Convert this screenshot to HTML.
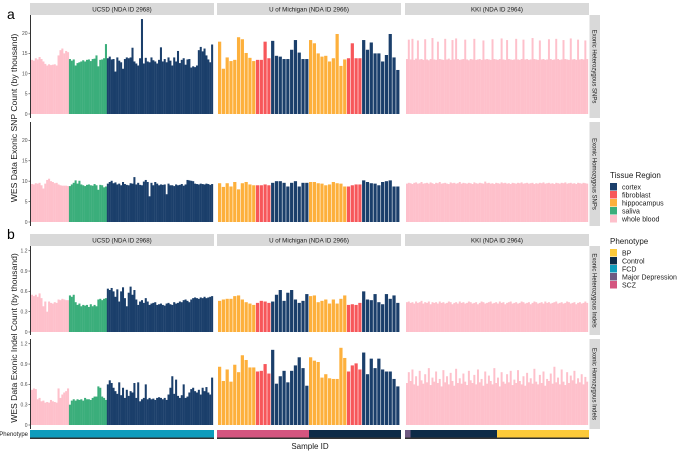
<!DOCTYPE html>
<html><head><meta charset="utf-8"><style>
html,body{margin:0;padding:0;background:#fff}
svg{display:block;font-family:"Liberation Sans",sans-serif}
</style></head><body>
<svg id="c" width="685" height="453" viewBox="0 0 685 453"></svg>
<script>
// ---------- DATA ----------
const sites = ["UCSD (NDA ID 2968)", "U of Michigan (NDA ID 2966)", "KKI (NDA ID 2964)"];
const rowLabels = ["Exonic Heterozygous SNPs", "Exonic Homozygous SNPs", "Exonic Heterozygous Indels", "Exonic Homozygous Indels"];
const snpTicks = [0, 5, 10, 15, 20];
const indelTicks = [0, 0.3, 0.6, 0.9, 1.2];
const tissueNames = ["cortex", "fibroblast", "hippocampus", "saliva", "whole blood"];
const tissueColors = ["#1b3f6b", "#f7575a", "#fdb03c", "#3bae7b", "#fec0cb"];
const phenoNames = ["BP", "Control", "FCD", "Major Depression", "SCZ"];
const phenoColors = ["#fdca3a", "#0d2b47", "#0f9cbc", "#6f5a82", "#d4557f"];

const ucsdTissue = [[4, 20], [3, 20], [0, 56]];
const michTissue = [[2, 10], [1, 4], [0, 10], [2, 10], [1, 4], [0, 10]];
const kkiTissue = [[4, 100]];
const ucsdPheno = [[2, 1]];
const michPheno = [[4, 0.5], [1, 0.5]];
const kkiPheno = [[3, 0.03], [1, 0.47], [0, 0.5]];

const ucsdHetSnp = [13.4,13.2,13.8,13.5,14.1,13.6,13.0,12.4,12.0,12.3,12.1,12.2,12.3,12.0,14.5,15.8,16.2,15.0,15.6,15.3,
 13.6,13.2,13.5,12.0,12.6,12.8,13.0,13.3,13.0,13.4,13.5,13.1,13.6,13.7,14.5,11.8,13.4,13.5,13.8,17.3,
 13.8,14.2,13.5,13.6,10.5,14.0,13.2,12.8,11.2,13.6,14.0,13.8,14.0,16.4,13.0,12.5,12.0,13.8,23.5,12.5,13.9,13.0,12.8,14.0,13.3,13.0,12.5,13.4,16.5,13.0,13.6,12.8,14.0,13.2,12.0,14.0,13.0,15.6,12.6,13.4,13.8,12.2,13.5,13.6,11.5,11.8,11.6,12.0,15.8,16.6,15.5,16.2,14.5,13.5,12.8,17.2];
const ucsdHomSnp = [9.3,9.2,9.5,9.4,9.6,9.0,8.2,9.4,10.3,10.6,10.0,9.8,9.5,9.6,9.2,9.0,8.9,8.9,8.9,8.8,
 8.8,9.2,9.6,10.2,9.4,10.1,9.2,9.0,8.8,9.1,9.2,9.0,8.9,9.3,9.0,7.9,9.1,9.0,8.5,8.7,
 9.4,9.8,10.1,9.5,9.7,9.2,9.4,9.0,9.8,9.3,9.1,9.0,9.5,9.4,11.0,9.2,9.6,9.1,9.0,9.9,10.3,9.8,6.3,9.6,9.0,9.8,9.4,9.0,9.2,9.1,9.2,6.8,9.4,9.0,9.0,8.8,9.2,9.0,9.1,9.3,8.9,9.2,10.3,10.2,10.1,10.0,9.4,9.3,9.2,9.4,9.3,9.2,9.4,9.3,9.1,9.3];
const ucsdHetIndel = [0.55,0.53,0.55,0.52,0.57,0.5,0.38,0.45,0.3,0.45,0.43,0.42,0.44,0.43,0.48,0.47,0.49,0.48,0.47,0.47,
 0.54,0.52,0.55,0.44,0.40,0.42,0.38,0.40,0.39,0.40,0.37,0.41,0.38,0.40,0.38,0.48,0.49,0.47,0.49,0.50,
 0.64,0.62,0.65,0.6,0.52,0.63,0.45,0.6,0.66,0.5,0.38,0.58,0.67,0.55,0.62,0.48,0.40,0.45,0.47,0.43,0.50,0.45,0.40,0.42,0.43,0.44,0.40,0.41,0.42,0.40,0.39,0.42,0.43,0.41,0.40,0.44,0.42,0.43,0.45,0.44,0.47,0.48,0.46,0.44,0.48,0.50,0.51,0.50,0.49,0.51,0.50,0.52,0.50,0.51,0.52,0.53];
const ucsdHomIndel = [0.52,0.54,0.53,0.38,0.40,0.35,0.36,0.33,0.34,0.33,0.37,0.35,0.34,0.33,0.54,0.40,0.45,0.48,0.50,0.54,
 0.30,0.36,0.38,0.36,0.38,0.37,0.38,0.36,0.40,0.38,0.38,0.37,0.40,0.42,0.42,0.57,0.55,0.42,0.40,0.37,
 0.60,0.66,0.62,0.55,0.50,0.46,0.63,0.44,0.55,0.40,0.52,0.43,0.50,0.48,0.62,0.40,0.63,0.35,0.38,0.40,0.60,0.38,0.40,0.38,0.39,0.37,0.40,0.41,0.40,0.38,0.40,0.37,0.45,0.55,0.72,0.46,0.67,0.43,0.40,0.44,0.60,0.40,0.42,0.48,0.53,0.55,0.50,0.48,0.52,0.45,0.55,0.50,0.56,0.48,0.45,0.70];

const michHetSnp = [17.9,11.2,14.0,13.1,13.4,19.0,18.5,15.1,13.9,13.1, 13.4,13.4,17.9,13.8, 18.1,14.4,14.2,13.6,13.6,15.9,18.3,15.2,13.6,13.6,
 18.3,17.5,15.0,14.2,14.4,13.0,13.8,19.8,11.9,13.5, 13.8,17.5,13.8,13.8, 18.3,15.9,17.7,15.0,15.0,13.0,14.6,19.8,14.0,10.9];
const michHomSnp = [9.5,8.6,9.5,8.7,9.8,8.0,9.5,9.8,9.2,9.0, 9.0,9.0,9.2,9.0, 9.6,10.0,10.0,9.6,8.7,9.6,10.0,8.7,9.6,9.6,
 9.8,9.8,9.5,9.4,9.0,9.2,9.8,9.5,9.4,8.7, 8.7,9.0,9.2,9.2, 10.2,9.8,9.5,9.4,9.0,9.8,10.0,10.2,8.7,8.7];
const michHetIndel = [0.46,0.48,0.49,0.49,0.53,0.54,0.48,0.44,0.42,0.40, 0.43,0.46,0.45,0.43, 0.45,0.55,0.62,0.46,0.58,0.62,0.48,0.43,0.46,0.56,
 0.53,0.54,0.44,0.46,0.48,0.42,0.48,0.42,0.49,0.54, 0.40,0.41,0.40,0.43, 0.60,0.48,0.47,0.56,0.44,0.41,0.56,0.49,0.54,0.43];
const michHomIndel = [0.86,0.65,0.82,0.64,0.89,0.78,1.03,0.96,0.85,0.85, 0.79,0.80,0.90,0.76, 1.11,0.61,0.72,0.80,0.63,0.80,0.88,1.00,0.84,0.58,
 1.00,0.95,0.93,0.70,0.75,0.69,0.68,0.68,1.14,0.99, 0.79,0.88,0.91,0.82, 1.07,0.75,0.98,0.84,0.98,0.82,0.79,0.79,0.68,0.57];

const kkiHetSnp = [13.6,18.4,13.5,18.6,13.4,13.7,18.2,13.5,13.6,13.4,18.5,13.5,13.3,13.6,18.8,13.5,13.4,17.9,13.6,13.5,
 13.4,18.6,13.5,13.7,13.4,18.3,13.5,18.7,13.6,13.4,13.5,13.6,18.4,13.5,13.3,13.6,13.5,18.6,13.4,13.5,
 13.6,13.4,18.2,13.5,13.6,13.5,13.4,18.5,13.6,13.5,13.4,13.6,18.7,13.5,13.4,18.3,13.6,13.5,13.4,13.5,
 18.6,13.5,13.4,13.6,18.4,13.5,13.6,13.4,13.5,18.8,13.6,13.5,13.4,18.2,13.5,13.6,13.4,13.5,18.5,13.6,
 13.4,13.5,18.6,13.6,13.4,13.5,18.3,13.6,13.5,13.4,18.7,13.5,13.6,13.4,18.4,13.5,13.6,13.5,18.2,13.6];
const kkiHomSnp = [9.4,9.6,9.5,9.3,9.6,9.7,9.4,9.5,9.8,9.4,9.5,9.6,9.4,9.7,9.5,9.3,9.6,9.5,9.8,9.4,
 9.5,9.6,9.4,9.3,9.7,9.5,9.6,9.4,9.5,9.8,9.4,9.6,9.5,9.4,9.6,9.5,9.3,9.7,9.5,9.4,
 9.6,9.5,9.4,9.9,9.5,9.6,9.4,9.5,9.3,9.6,9.5,9.4,9.7,9.5,9.6,9.4,9.5,9.3,9.6,9.5,
 9.4,9.6,9.5,9.7,9.4,9.5,9.6,9.4,9.5,9.6,9.3,9.5,9.4,9.6,9.5,9.7,9.4,9.5,9.6,9.4,
 9.5,9.3,9.6,9.5,9.4,9.6,9.5,9.7,9.4,9.5,9.6,9.4,9.5,9.3,9.6,9.5,9.4,9.6,9.5,9.4];
const kkiHetIndel = [0.44,0.45,0.43,0.44,0.42,0.45,0.43,0.44,0.46,0.42,0.44,0.43,0.45,0.41,0.44,0.43,0.44,0.42,0.45,0.43,
 0.44,0.42,0.43,0.45,0.44,0.41,0.43,0.44,0.42,0.45,0.43,0.44,0.42,0.43,0.45,0.44,0.42,0.43,0.44,0.41,
 0.43,0.45,0.44,0.42,0.43,0.44,0.45,0.42,0.43,0.44,0.42,0.45,0.43,0.44,0.41,0.43,0.44,0.45,0.42,0.43,
 0.44,0.42,0.43,0.45,0.44,0.42,0.43,0.44,0.41,0.43,0.45,0.44,0.42,0.43,0.44,0.42,0.45,0.43,0.44,0.42,
 0.43,0.44,0.45,0.42,0.43,0.44,0.42,0.43,0.45,0.44,0.42,0.43,0.44,0.41,0.43,0.44,0.42,0.43,0.45,0.43];
const kkiHomIndel = [0.62,0.78,0.65,0.82,0.60,0.72,0.58,0.80,0.66,0.61,0.75,0.63,0.84,0.59,0.70,0.64,0.79,0.62,0.68,0.57,
 0.81,0.63,0.72,0.60,0.77,0.65,0.58,0.83,0.62,0.69,0.61,0.76,0.64,0.59,0.80,0.66,0.62,0.74,0.60,0.82,
 0.63,0.68,0.58,0.79,0.61,0.73,0.65,0.60,0.84,0.62,0.70,0.57,0.78,0.64,0.61,0.75,0.63,0.80,0.59,0.67,
 0.62,0.81,0.65,0.60,0.72,0.58,0.77,0.63,0.69,0.61,0.83,0.64,0.60,0.74,0.62,0.79,0.58,0.68,0.65,0.76,
 0.61,0.86,0.63,0.70,0.60,0.82,0.64,0.59,0.78,0.62,0.73,0.66,0.80,0.61,0.69,0.63,0.75,0.60,0.71,0.64];

// ---------- LAYOUT ----------
const NS = "http://www.w3.org/2000/svg";
const svg = document.getElementById("c");
function mk(tag, attrs, parent, text) {
  const e = document.createElementNS(NS, tag);
  for (const k in attrs) e.setAttribute(k, attrs[k]);
  if (text !== undefined) e.textContent = text;
  (parent || svg).appendChild(e);
  return e;
}
const cols = [[30, 214], [217, 401], [405, 589]];
const rows = [[15, 118, 114, 24.5], [122, 226, 222, 24.5], [246, 335, 332, 1.27], [339, 429, 425, 1.27]];
const data = [
  [ucsdHetSnp, michHetSnp, kkiHetSnp],
  [ucsdHomSnp, michHomSnp, kkiHomSnp],
  [ucsdHetIndel, michHetIndel, kkiHetIndel],
  [ucsdHomIndel, michHomIndel, kkiHomIndel]
];
const tissueRuns = [ucsdTissue, michTissue, kkiTissue];
const phenoRuns = [ucsdPheno, michPheno, kkiPheno];

function yScale(r, v) { const R = rows[r]; return R[2] - v / R[3] * (R[2] - R[0]); }
function xScale(c, i, n) { const C = cols[c]; return C[0] + 1 + (C[1] - C[0] - 2) * i / n; }

[[3, 15], [234, 246]].forEach((s, si) => {
  cols.forEach((C, ci) => {
    const g = mk("g", {});
    
    
    mk("rect", { x: C[0], y: s[0], width: C[1] - C[0], height: s[1] - s[0], fill: "#d9d9d9" }, g);
    mk("text", { x: (C[0] + C[1]) / 2, y: s[0] + 8.5, "font-size": 6.2, fill: "#1a1a1a", "text-anchor": "middle" }, g, sites[ci]);
  });
});

rows.forEach((R, ri) => {
  const g = mk("g", {});
  
  
  mk("rect", { x: 589.5, y: R[0], width: 10.5, height: R[1] - R[0], fill: "#d9d9d9" }, g);
  const cy = (R[0] + R[1]) / 2;
  mk("text", { x: 592.5, y: cy, "font-size": 6, fill: "#1a1a1a", "text-anchor": "middle", transform: `rotate(90 592.5 ${cy})` }, g, rowLabels[ri]);
});

rows.forEach((R, ri) => {
  cols.forEach((C, ci) => {
    const vals = data[ri][ci];
    const n = vals.length;
    const step = (C[1] - C[0] - 2) / n;
    const gap = n > 60 ? 0 : Math.min(0.8, step * 0.15);
    const tcol = [];
    tissueRuns[ci].forEach(([t, cnt]) => { for (let k = 0; k < cnt; k++) tcol.push(t); });
    vals.forEach((v, i) => {
      const y = yScale(ri, v);
      const b = mk("rect", { x: xScale(ci, i, n).toFixed(2), y: y.toFixed(2), width: (step - gap + (gap ? 0 : 0.15)).toFixed(2), height: (R[2] - y).toFixed(2), fill: tissueColors[tcol[i] ?? 4] });
      
      
    });
  });
  const ax = mk("g", {});
  
  
  mk("line", { x1: 30.5, x2: 30.5, y1: R[0], y2: R[1], stroke: "#333", "stroke-width": 1 }, ax);
  const ticks = ri < 2 ? snpTicks : indelTicks;
  ticks.forEach(t => {
    const y = yScale(ri, t);
    mk("line", { x1: 28.5, x2: 30.5, y1: y, y2: y, stroke: "#333", "stroke-width": 0.6 }, ax);
    mk("text", { x: 27.5, y: y + 1.8, "font-size": 5, fill: "#4d4d4d", "text-anchor": "end" }, ax, String(t));
  });
});

cols.forEach((C, ci) => {
  let x = C[0];
  const W = C[1] - C[0];
  phenoRuns[ci].forEach(([p, f]) => {
    const r = mk("rect", { x: x, y: 430, width: W * f, height: 7.5, fill: phenoColors[p] });
    
    
    x += W * f;
  });
  mk("rect", { x: C[0], y: 437.5, width: W, height: 1.5, fill: "#333" });
});
mk("text", { x: 28, y: 436, "font-size": 6, fill: "#1a1a1a", "text-anchor": "end" }, svg, "Phenotype");

const t1 = mk("text", { x: 17, y: 118, "font-size": 8.6, fill: "#1a1a1a", "text-anchor": "middle", transform: "rotate(-90 17 118)" }, svg, "WES Data Exonic SNP Count (by thousand)");


const t2 = mk("text", { x: 17, y: 338, "font-size": 8.6, fill: "#1a1a1a", "text-anchor": "middle", transform: "rotate(-90 17 338)" }, svg, "WES Data Exonic Indel Count (by thousand)");


const xt = mk("text", { x: 310, y: 449, "font-size": 8, fill: "#1a1a1a", "text-anchor": "middle" }, svg, "Sample ID");


mk("text", { x: 7, y: 19, "font-size": 14, fill: "#000" }, svg, "a");
mk("text", { x: 7, y: 239, "font-size": 14, fill: "#000" }, svg, "b");

function legend(title, names, colors, x, y, nm) {
  const g = mk("g", {});
  
  
  mk("text", { x: x, y: y, "font-size": 8, fill: "#1a1a1a" }, g, title);
  names.forEach((n, i) => {
    const yy = y + 5 + i * 8;
    const e = mk("g", {}, g);
    
    
    mk("rect", { x: x, y: yy, width: 7, height: 7.5, fill: colors[i] }, e);
    mk("text", { x: x + 12, y: yy + 6.3, "font-size": 7, fill: "#1a1a1a" }, e, n);
  });
}
legend("Tissue Region", tissueNames, tissueColors, 610, 178, "tissue-legend");
legend("Phenotype", phenoNames, phenoColors, 610, 244, "phenotype-legend");
</script>
</body></html>
